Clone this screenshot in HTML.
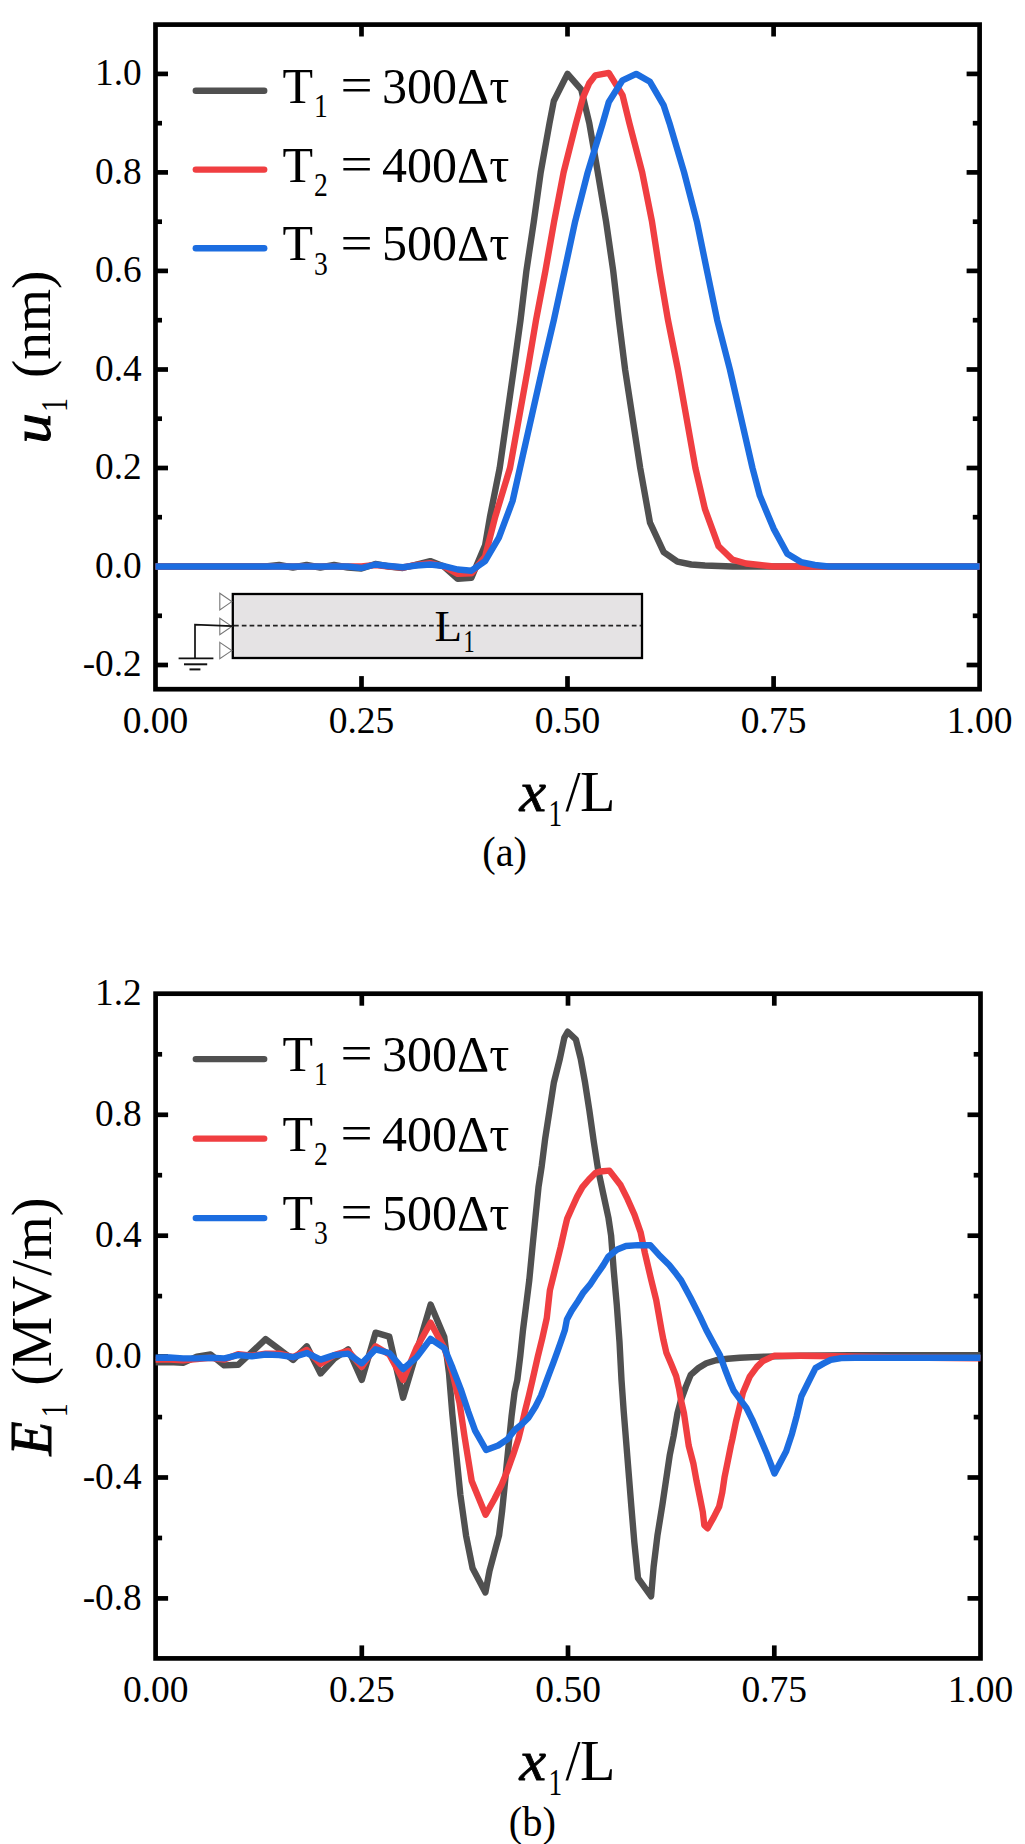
<!DOCTYPE html><html><head><meta charset="utf-8"><style>html,body{margin:0;padding:0;background:#fff;}svg{display:block;}text{font-family:"Liberation Serif",serif;}</style></head><body>
<svg width="1025" height="1844" viewBox="0 0 1025 1844">
<rect width="1025" height="1844" fill="#fff"/>
<rect x="155.5" y="24.6" width="824.1" height="664.6" fill="none" stroke="#000" stroke-width="4.7"/>
<line x1="361.5" y1="689.1" x2="361.5" y2="676.1" stroke="#000" stroke-width="4.7"/>
<line x1="361.5" y1="24.6" x2="361.5" y2="36.5" stroke="#000" stroke-width="4.7"/>
<line x1="567.5" y1="689.1" x2="567.5" y2="676.1" stroke="#000" stroke-width="4.7"/>
<line x1="567.5" y1="24.6" x2="567.5" y2="36.5" stroke="#000" stroke-width="4.7"/>
<line x1="773.6" y1="689.1" x2="773.6" y2="676.1" stroke="#000" stroke-width="4.7"/>
<line x1="773.6" y1="24.6" x2="773.6" y2="36.5" stroke="#000" stroke-width="4.7"/>
<line x1="155.5" y1="73.9" x2="168.0" y2="73.9" stroke="#000" stroke-width="4.7"/>
<line x1="979.6" y1="73.9" x2="966.6" y2="73.9" stroke="#000" stroke-width="4.7"/>
<line x1="155.5" y1="172.4" x2="168.0" y2="172.4" stroke="#000" stroke-width="4.7"/>
<line x1="979.6" y1="172.4" x2="966.6" y2="172.4" stroke="#000" stroke-width="4.7"/>
<line x1="155.5" y1="270.9" x2="168.0" y2="270.9" stroke="#000" stroke-width="4.7"/>
<line x1="979.6" y1="270.9" x2="966.6" y2="270.9" stroke="#000" stroke-width="4.7"/>
<line x1="155.5" y1="369.5" x2="168.0" y2="369.5" stroke="#000" stroke-width="4.7"/>
<line x1="979.6" y1="369.5" x2="966.6" y2="369.5" stroke="#000" stroke-width="4.7"/>
<line x1="155.5" y1="468.0" x2="168.0" y2="468.0" stroke="#000" stroke-width="4.7"/>
<line x1="979.6" y1="468.0" x2="966.6" y2="468.0" stroke="#000" stroke-width="4.7"/>
<line x1="155.5" y1="566.5" x2="168.0" y2="566.5" stroke="#000" stroke-width="4.7"/>
<line x1="979.6" y1="566.5" x2="966.6" y2="566.5" stroke="#000" stroke-width="4.7"/>
<line x1="155.5" y1="665.0" x2="168.0" y2="665.0" stroke="#000" stroke-width="4.7"/>
<line x1="979.6" y1="665.0" x2="966.6" y2="665.0" stroke="#000" stroke-width="4.7"/>
<line x1="155.5" y1="123.2" x2="162.0" y2="123.2" stroke="#000" stroke-width="4.7"/>
<line x1="979.6" y1="123.2" x2="972.8" y2="123.2" stroke="#000" stroke-width="4.7"/>
<line x1="155.5" y1="221.7" x2="162.0" y2="221.7" stroke="#000" stroke-width="4.7"/>
<line x1="979.6" y1="221.7" x2="972.8" y2="221.7" stroke="#000" stroke-width="4.7"/>
<line x1="155.5" y1="320.2" x2="162.0" y2="320.2" stroke="#000" stroke-width="4.7"/>
<line x1="979.6" y1="320.2" x2="972.8" y2="320.2" stroke="#000" stroke-width="4.7"/>
<line x1="155.5" y1="418.7" x2="162.0" y2="418.7" stroke="#000" stroke-width="4.7"/>
<line x1="979.6" y1="418.7" x2="972.8" y2="418.7" stroke="#000" stroke-width="4.7"/>
<line x1="155.5" y1="517.2" x2="162.0" y2="517.2" stroke="#000" stroke-width="4.7"/>
<line x1="979.6" y1="517.2" x2="972.8" y2="517.2" stroke="#000" stroke-width="4.7"/>
<line x1="155.5" y1="615.8" x2="162.0" y2="615.8" stroke="#000" stroke-width="4.7"/>
<line x1="979.6" y1="615.8" x2="972.8" y2="615.8" stroke="#000" stroke-width="4.7"/>
<text x="141.7" y="85.1" font-size="37.3" text-anchor="end">1.0</text>
<text x="141.7" y="183.6" font-size="37.3" text-anchor="end">0.8</text>
<text x="141.7" y="282.1" font-size="37.3" text-anchor="end">0.6</text>
<text x="141.7" y="380.7" font-size="37.3" text-anchor="end">0.4</text>
<text x="141.7" y="479.2" font-size="37.3" text-anchor="end">0.2</text>
<text x="141.7" y="577.7" font-size="37.3" text-anchor="end">0.0</text>
<text x="141.7" y="676.2" font-size="37.3" text-anchor="end">-0.2</text>
<text x="155.5" y="732.9" font-size="37.5" text-anchor="middle">0.00</text>
<text x="361.5" y="732.9" font-size="37.5" text-anchor="middle">0.25</text>
<text x="567.5" y="732.9" font-size="37.5" text-anchor="middle">0.50</text>
<text x="773.6" y="732.9" font-size="37.5" text-anchor="middle">0.75</text>
<text x="979.6" y="732.9" font-size="37.5" text-anchor="middle">1.00</text>
<rect x="232.8" y="594" width="409.2" height="64" fill="#e5e3e4" stroke="#000" stroke-width="2.3"/>
<line x1="234" y1="625.7" x2="641" y2="625.7" stroke="#222" stroke-width="1.7" stroke-dasharray="4.7,3.1"/>
<polygon points="219.8,593.3 231.8,601.6 219.8,610.0" fill="none" stroke="#777" stroke-width="1.1"/>
<polygon points="219.8,618.2 231.8,626.4 219.8,634.6" fill="none" stroke="#777" stroke-width="1.1"/>
<polygon points="219.8,642.4 231.8,650.6 219.8,658.8" fill="none" stroke="#777" stroke-width="1.1"/>
<polyline points="232.5,626.2 195,624.6 195,658.4" fill="none" stroke="#111" stroke-width="1.7"/>
<line x1="178.6" y1="658.4" x2="213.4" y2="658.4" stroke="#111" stroke-width="1.7"/>
<line x1="184" y1="664.3" x2="207.2" y2="664.3" stroke="#111" stroke-width="2"/>
<line x1="189.5" y1="669.4" x2="200.4" y2="669.4" stroke="#111" stroke-width="2"/>
<text x="434.5" y="640.9" font-size="45">L</text>
<text transform="translate(463.4,651.6) scale(0.72,1)" font-size="31">1</text>
<polyline points="155.5,566.5 169.2,566.5 183.0,566.5 196.7,566.5 210.4,566.5 224.2,566.5 237.9,566.5 251.6,566.5 265.4,566.5 279.1,565.0 292.9,567.5 306.6,565.0 320.3,567.5 334.1,565.0 347.8,567.5 361.5,568.5 375.3,564.0 389.0,566.5 402.7,568.0 416.5,564.5 430.2,561.1 443.9,566.5 457.7,578.8 471.4,577.8 485.1,545.3 489.9,517.2 499.7,468.0 513.7,369.5 520.5,320.2 526.4,270.9 533.8,221.7 540.7,172.4 549.5,123.2 553.8,101.0 567.5,73.9 581.3,89.7 589.3,123.2 597.8,172.4 606.1,221.7 613.2,270.9 618.9,320.2 625.1,369.5 640.2,468.0 650.0,522.7 663.7,552.2 677.4,561.7 691.2,564.5 704.9,565.5 732.4,566.5 979.6,566.5" fill="none" stroke="#505050" stroke-width="6.4" stroke-linejoin="round" stroke-linecap="butt"/>
<polyline points="155.5,566.5 169.2,566.5 183.0,566.5 196.7,566.5 210.4,566.5 224.2,566.5 237.9,566.5 251.6,566.5 265.4,566.5 279.1,566.5 292.9,566.5 306.6,566.5 320.3,566.5 334.1,566.5 347.8,566.5 361.5,566.5 375.3,565.0 389.0,566.5 402.7,567.5 416.5,565.0 430.2,563.1 443.9,566.5 457.7,573.9 471.4,573.4 485.1,556.6 495.1,517.2 510.0,468.0 527.7,369.5 536.0,320.2 545.4,270.9 554.1,221.7 563.6,172.4 576.0,123.2 583.0,97.5 589.2,83.3 595.3,75.4 608.8,72.9 622.5,95.1 629.4,123.2 642.2,172.4 652.0,221.7 659.6,270.9 668.0,320.2 677.9,369.5 695.4,468.0 704.9,508.9 718.6,546.3 732.4,559.6 746.1,563.5 759.8,565.0 773.6,566.5 979.6,566.5" fill="none" stroke="#f03e41" stroke-width="6.4" stroke-linejoin="round" stroke-linecap="butt"/>
<polyline points="155.5,566.5 169.2,566.5 183.0,566.5 196.7,566.5 210.4,566.5 224.2,566.5 237.9,566.5 251.6,566.5 265.4,566.5 279.1,566.5 292.9,566.5 306.6,566.5 320.3,566.5 334.1,566.5 347.8,566.5 361.5,568.0 375.3,564.5 389.0,566.0 402.7,567.2 416.5,565.5 430.2,564.5 443.9,566.0 457.7,569.5 471.4,570.7 485.1,561.1 498.9,537.6 512.6,501.0 520.0,468.0 542.2,369.5 553.8,320.2 564.5,270.9 575.1,221.7 587.7,172.4 602.7,123.2 608.8,102.0 622.5,80.3 636.2,73.9 650.0,81.8 663.7,105.4 669.5,123.2 684.1,172.4 696.9,221.7 707.0,270.9 717.2,320.2 729.9,369.5 752.5,468.0 759.8,495.6 773.6,528.6 787.3,553.7 801.0,562.1 814.8,565.0 828.5,566.5 979.6,566.5" fill="none" stroke="#1c6de0" stroke-width="6.4" stroke-linejoin="round" stroke-linecap="butt"/>
<line x1="195.8" y1="90.8" x2="264.2" y2="90.8" stroke="#505050" stroke-width="6.4" stroke-linecap="round"/>
<text x="282.4" y="102.9" font-size="50">T</text>
<text transform="translate(313.9,117.0) scale(0.8,1)" font-size="34.5">1</text>
<text transform="translate(340.4,102.1) scale(1.14,1)" font-size="50">=</text>
<text x="382.1" y="102.9" font-size="50">300Δτ</text>
<line x1="195.8" y1="169.6" x2="264.2" y2="169.6" stroke="#f03e41" stroke-width="6.4" stroke-linecap="round"/>
<text x="282.4" y="181.7" font-size="50">T</text>
<text transform="translate(313.9,195.8) scale(0.8,1)" font-size="34.5">2</text>
<text transform="translate(340.4,180.8) scale(1.14,1)" font-size="50">=</text>
<text x="382.1" y="181.7" font-size="50">400Δτ</text>
<line x1="195.8" y1="248.3" x2="264.2" y2="248.3" stroke="#1c6de0" stroke-width="6.4" stroke-linecap="round"/>
<text x="282.4" y="260.4" font-size="50">T</text>
<text transform="translate(313.9,274.5) scale(0.8,1)" font-size="34.5">3</text>
<text transform="translate(340.4,259.6) scale(1.14,1)" font-size="50">=</text>
<text x="382.1" y="260.4" font-size="50">500Δτ</text>
<text transform="translate(50.3,443.5) rotate(-90) scale(1.100,1)" font-size="55.0" font-style="italic" stroke="#000" stroke-width="1.0">u</text>
<text transform="translate(66.7,412.1) rotate(-90) scale(0.72,1)" font-size="38.5">1</text>
<text transform="translate(50.3,378.1) rotate(-90)" font-size="55.3">(nm)</text>
<text transform="translate(519.4,810.9) scale(1.05,1)" font-size="57" font-style="italic" stroke="#000" stroke-width="0.8">x</text>
<text transform="translate(548.6,825.7) scale(0.7,1)" font-size="38.9">1</text>
<text transform="translate(565.5,810.9) scale(0.95,1)" font-size="57">/</text>
<text x="580.1" y="810.9" font-size="58">L</text>
<text transform="translate(482.3,865.8) scale(0.96,1)" font-size="42">(a)</text>
<rect x="155.6" y="993.7" width="824.9" height="664.7" fill="none" stroke="#000" stroke-width="4.7"/>
<line x1="361.8" y1="1658.4" x2="361.8" y2="1645.4" stroke="#000" stroke-width="4.7"/>
<line x1="361.8" y1="993.7" x2="361.8" y2="1005.7" stroke="#000" stroke-width="4.7"/>
<line x1="568.0" y1="1658.4" x2="568.0" y2="1645.4" stroke="#000" stroke-width="4.7"/>
<line x1="568.0" y1="993.7" x2="568.0" y2="1005.7" stroke="#000" stroke-width="4.7"/>
<line x1="774.3" y1="1658.4" x2="774.3" y2="1645.4" stroke="#000" stroke-width="4.7"/>
<line x1="774.3" y1="993.7" x2="774.3" y2="1005.7" stroke="#000" stroke-width="4.7"/>
<line x1="155.6" y1="1114.8" x2="168.1" y2="1114.8" stroke="#000" stroke-width="4.7"/>
<line x1="980.5" y1="1114.8" x2="967.5" y2="1114.8" stroke="#000" stroke-width="4.7"/>
<line x1="155.6" y1="1235.7" x2="168.1" y2="1235.7" stroke="#000" stroke-width="4.7"/>
<line x1="980.5" y1="1235.7" x2="967.5" y2="1235.7" stroke="#000" stroke-width="4.7"/>
<line x1="155.6" y1="1356.6" x2="168.1" y2="1356.6" stroke="#000" stroke-width="4.7"/>
<line x1="980.5" y1="1356.6" x2="967.5" y2="1356.6" stroke="#000" stroke-width="4.7"/>
<line x1="155.6" y1="1477.5" x2="168.1" y2="1477.5" stroke="#000" stroke-width="4.7"/>
<line x1="980.5" y1="1477.5" x2="967.5" y2="1477.5" stroke="#000" stroke-width="4.7"/>
<line x1="155.6" y1="1598.4" x2="168.1" y2="1598.4" stroke="#000" stroke-width="4.7"/>
<line x1="980.5" y1="1598.4" x2="967.5" y2="1598.4" stroke="#000" stroke-width="4.7"/>
<line x1="155.6" y1="1054.3" x2="162.1" y2="1054.3" stroke="#000" stroke-width="4.7"/>
<line x1="980.5" y1="1054.3" x2="973.7" y2="1054.3" stroke="#000" stroke-width="4.7"/>
<line x1="155.6" y1="1175.2" x2="162.1" y2="1175.2" stroke="#000" stroke-width="4.7"/>
<line x1="980.5" y1="1175.2" x2="973.7" y2="1175.2" stroke="#000" stroke-width="4.7"/>
<line x1="155.6" y1="1296.1" x2="162.1" y2="1296.1" stroke="#000" stroke-width="4.7"/>
<line x1="980.5" y1="1296.1" x2="973.7" y2="1296.1" stroke="#000" stroke-width="4.7"/>
<line x1="155.6" y1="1417.1" x2="162.1" y2="1417.1" stroke="#000" stroke-width="4.7"/>
<line x1="980.5" y1="1417.1" x2="973.7" y2="1417.1" stroke="#000" stroke-width="4.7"/>
<line x1="155.6" y1="1538.0" x2="162.1" y2="1538.0" stroke="#000" stroke-width="4.7"/>
<line x1="980.5" y1="1538.0" x2="973.7" y2="1538.0" stroke="#000" stroke-width="4.7"/>
<text x="141.7" y="1005.0" font-size="37.3" text-anchor="end">1.2</text>
<text x="141.7" y="1126.0" font-size="37.3" text-anchor="end">0.8</text>
<text x="141.7" y="1246.9" font-size="37.3" text-anchor="end">0.4</text>
<text x="141.7" y="1367.8" font-size="37.3" text-anchor="end">0.0</text>
<text x="141.7" y="1488.7" font-size="37.3" text-anchor="end">-0.4</text>
<text x="141.7" y="1609.6" font-size="37.3" text-anchor="end">-0.8</text>
<text x="155.7" y="1701.6" font-size="37.5" text-anchor="middle">0.00</text>
<text x="361.9" y="1701.6" font-size="37.5" text-anchor="middle">0.25</text>
<text x="568.1" y="1701.6" font-size="37.5" text-anchor="middle">0.50</text>
<text x="774.3" y="1701.6" font-size="37.5" text-anchor="middle">0.75</text>
<text x="980.5" y="1701.6" font-size="37.5" text-anchor="middle">1.00</text>
<polyline points="155.6,1362.3 169.3,1362.0 183.1,1362.9 196.8,1356.6 210.6,1354.5 224.3,1365.4 238.1,1364.8 251.8,1352.1 265.6,1339.1 279.3,1349.3 293.1,1359.9 306.8,1346.3 320.6,1373.5 334.3,1358.7 348.1,1349.3 361.8,1379.9 375.6,1332.7 389.3,1336.6 403.1,1397.7 416.8,1351.5 430.6,1304.6 444.3,1337.1 449.0,1373.2 452.3,1413.8 456.3,1454.5 460.4,1495.1 466.1,1535.8 472.6,1568.3 485.4,1592.5 489.5,1570.9 494.3,1553.0 499.1,1535.1 502.1,1511.2 504.5,1487.4 506.8,1463.5 509.2,1439.6 511.6,1415.8 514.6,1391.9 517.3,1380.0 520.3,1355.9 523.0,1330.0 526.0,1306.4 529.3,1280.0 532.5,1246.8 535.2,1219.7 538.5,1187.1 541.7,1166.2 545.2,1138.4 549.5,1110.7 553.8,1082.9 559.9,1058.6 564.3,1037.8 567.7,1031.7 575.9,1039.5 580.7,1058.6 585.1,1082.9 589.4,1110.7 593.8,1141.9 598.1,1169.7 603.3,1194.0 608.5,1218.2 611.1,1235.6 613.7,1270.3 616.8,1305.0 619.5,1342.0 621.5,1380.0 623.7,1411.2 626.2,1442.3 628.7,1473.5 631.2,1504.7 634.3,1542.0 638.0,1578.2 651.1,1596.3 653.6,1567.0 657.4,1535.8 662.4,1504.7 666.1,1479.7 669.8,1454.8 673.6,1436.1 677.5,1413.0 681.0,1400.2 685.9,1386.6 690.7,1374.9 698.5,1368.0 706.3,1363.2 716.1,1360.2 727.8,1358.8 740.0,1357.8 765.0,1356.6 800.0,1355.8 850.0,1355.2 980.5,1355.2" fill="none" stroke="#505050" stroke-width="6.4" stroke-linejoin="round" stroke-linecap="butt"/>
<polyline points="155.6,1359.6 169.3,1359.6 183.1,1360.2 196.8,1359.0 210.6,1357.8 224.3,1359.6 238.1,1354.2 251.8,1355.7 265.6,1353.6 279.3,1353.6 293.1,1357.2 306.8,1349.9 320.6,1363.9 334.3,1355.1 348.1,1350.9 361.8,1366.9 375.6,1346.3 389.3,1354.5 403.1,1379.9 416.8,1347.2 430.6,1322.7 444.3,1348.1 452.6,1373.3 459.5,1402.8 464.7,1437.6 471.7,1481.0 485.6,1514.8 494.3,1499.3 501.5,1485.0 507.4,1470.7 513.4,1454.0 518.2,1439.6 521.8,1425.3 525.3,1409.8 528.9,1395.5 532.5,1380.0 537.7,1357.0 542.3,1338.2 546.8,1318.0 549.9,1290.2 555.3,1268.5 560.7,1246.8 565.1,1227.2 567.2,1218.6 571.6,1208.8 577.0,1196.9 582.4,1187.1 588.9,1179.5 595.4,1173.0 600.0,1171.5 609.4,1170.6 620.7,1185.3 627.6,1199.2 634.5,1214.8 640.6,1232.2 644.9,1253.0 651.0,1279.0 656.2,1300.0 661.5,1330.0 663.4,1339.8 666.3,1352.4 671.2,1364.1 676.1,1375.9 679.0,1388.5 681.0,1400.2 683.9,1412.9 686.4,1430.0 688.7,1445.6 693.4,1463.6 696.5,1480.7 699.7,1496.3 702.8,1512.0 704.3,1525.2 707.5,1528.3 713.7,1517.4 719.2,1506.5 722.3,1492.4 724.6,1476.8 727.8,1461.2 730.9,1445.6 732.3,1439.5 735.9,1421.9 739.4,1407.9 742.9,1392.7 746.4,1384.5 749.9,1376.3 756.9,1366.9 762.8,1361.1 774.5,1355.6 800.2,1355.8 850.0,1356.5 900.0,1357.5 980.5,1358.2" fill="none" stroke="#f03e41" stroke-width="6.4" stroke-linejoin="round" stroke-linecap="butt"/>
<polyline points="155.6,1357.8 169.3,1357.5 183.1,1358.4 196.8,1358.4 210.6,1357.8 224.3,1358.4 238.1,1355.1 251.8,1356.3 265.6,1354.5 279.3,1355.1 293.1,1357.2 306.8,1353.0 320.6,1359.6 334.3,1355.1 348.1,1353.6 361.8,1363.3 375.6,1349.3 389.3,1353.0 403.1,1369.0 416.8,1357.2 430.6,1338.8 444.3,1348.1 452.6,1368.1 461.3,1390.7 468.2,1411.5 475.1,1430.6 486.1,1450.0 498.2,1445.5 507.3,1439.4 515.0,1429.7 521.8,1424.3 528.7,1417.4 535.5,1406.5 541.0,1395.6 545.1,1384.6 549.2,1373.7 553.3,1362.8 557.3,1351.9 561.4,1340.2 564.9,1330.0 566.9,1319.5 571.6,1310.8 578.1,1301.0 583.5,1292.3 590.0,1284.7 595.4,1276.5 600.0,1270.0 603.3,1265.1 608.5,1256.4 617.2,1249.5 625.9,1246.0 638.0,1245.1 650.2,1245.2 658.8,1254.7 669.2,1265.1 676.2,1273.8 681.2,1280.5 690.5,1297.7 699.9,1316.4 706.3,1330.0 714.1,1344.6 720.0,1355.4 724.9,1369.0 729.8,1381.7 733.5,1390.3 739.4,1398.5 746.4,1407.9 752.2,1419.6 759.3,1436.0 766.3,1452.4 774.5,1473.5 786.2,1451.2 792.0,1433.7 796.7,1416.1 801.4,1396.2 809.6,1379.8 815.5,1368.1 823.7,1363.4 830.7,1359.9 841.2,1358.1 855.0,1357.8 980.5,1357.8" fill="none" stroke="#1c6de0" stroke-width="6.4" stroke-linejoin="round" stroke-linecap="butt"/>
<line x1="195.8" y1="1059.1" x2="264.2" y2="1059.1" stroke="#505050" stroke-width="6.4" stroke-linecap="round"/>
<text x="282.4" y="1071.2" font-size="50">T</text>
<text transform="translate(313.9,1085.3) scale(0.8,1)" font-size="34.5">1</text>
<text transform="translate(340.4,1070.4) scale(1.14,1)" font-size="50">=</text>
<text x="382.1" y="1071.2" font-size="50">300Δτ</text>
<line x1="195.8" y1="1138.6" x2="264.2" y2="1138.6" stroke="#f03e41" stroke-width="6.4" stroke-linecap="round"/>
<text x="282.4" y="1150.7" font-size="50">T</text>
<text transform="translate(313.9,1164.8) scale(0.8,1)" font-size="34.5">2</text>
<text transform="translate(340.4,1149.9) scale(1.14,1)" font-size="50">=</text>
<text x="382.1" y="1150.7" font-size="50">400Δτ</text>
<line x1="195.8" y1="1218.1" x2="264.2" y2="1218.1" stroke="#1c6de0" stroke-width="6.4" stroke-linecap="round"/>
<text x="282.4" y="1230.2" font-size="50">T</text>
<text transform="translate(313.9,1244.3) scale(0.8,1)" font-size="34.5">3</text>
<text transform="translate(340.4,1229.4) scale(1.14,1)" font-size="50">=</text>
<text x="382.1" y="1230.2" font-size="50">500Δτ</text>
<text transform="translate(50.9,1455.5) rotate(-90) scale(0.950,1)" font-size="58.5" font-style="italic" stroke="#000" stroke-width="1.0">E</text>
<text transform="translate(66.7,1417.2) rotate(-90) scale(0.72,1)" font-size="38.5">1</text>
<text transform="translate(50.9,1385.7) rotate(-90)" font-size="56.5">(MV/m)</text>
<text transform="translate(519.4,1780.1) scale(1.05,1)" font-size="57" font-style="italic" stroke="#000" stroke-width="0.8">x</text>
<text transform="translate(548.6,1794.9) scale(0.7,1)" font-size="38.9">1</text>
<text transform="translate(565.5,1780.1) scale(0.95,1)" font-size="57">/</text>
<text x="580.1" y="1780.1" font-size="58">L</text>
<text transform="translate(508.8,1835.6) scale(0.963,1)" font-size="42">(b)</text>
</svg></body></html>
